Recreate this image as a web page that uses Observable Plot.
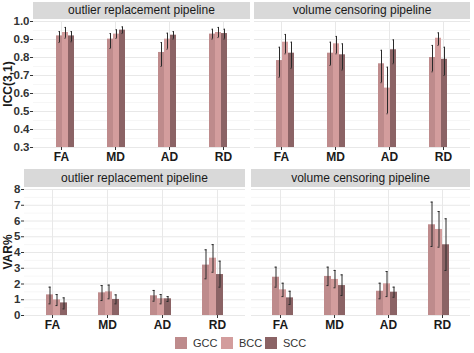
<!DOCTYPE html>
<html><head><meta charset="utf-8">
<script src="https://cdn.jsdelivr.net/npm/d3@7"></script>
<script src="https://cdn.jsdelivr.net/npm/@observablehq/plot@0.6"></script>
<style>
body{margin:0;background:#fff;font-family:"Liberation Sans",Arial,sans-serif;}
#root{position:relative;width:474px;height:353px;overflow:hidden;background:#fff;}
.layer{position:absolute;}
.layer svg{position:absolute;left:0;top:0;}
.strip{position:absolute;background:#d9d9d9;color:#1a1a1a;font-size:12px;text-align:center;white-space:nowrap;}
.ylab{position:absolute;font-weight:bold;font-size:12px;color:#1a1a1a;transform:rotate(-90deg);transform-origin:center;white-space:nowrap;text-align:center;width:80px;margin-left:-40px;height:14px;margin-top:-7px;line-height:14px;}
.sw{position:absolute;width:12px;height:12px;}
.lg{position:absolute;font-size:11px;color:#333;line-height:14px;}
</style></head>
<body><div id="root"></div>
<script>
const categories = ["FA","MD","AD","RD"];
const methods = ["GCC","BCC","SCC"];
const colors = ["#be8b8c","#d39d9d","#8b6365"];

// values ordered category-major: FA(GCC,BCC,SCC), MD(...), AD(...), RD(...)
const iccOutlierMean = [0.92,0.939,0.92, 0.902,0.93,0.952, 0.828,0.902,0.924, 0.93,0.939,0.933];
const iccOutlierLo   = [0.883,0.907,0.887, 0.85,0.906,0.933, 0.75,0.846,0.902, 0.902,0.911,0.902];
const iccOutlierHi   = [0.944,0.967,0.944, 0.933,0.954,0.97, 0.883,0.935,0.944, 0.957,0.967,0.957];

const iccCensorMean = [0.783,0.885,0.824, 0.824,0.876,0.815, 0.765,0.63,0.843, 0.80,0.907,0.79];
const iccCensorLo   = [0.69,0.82,0.74, 0.756,0.82,0.73, 0.66,0.487,0.765, 0.72,0.867,0.70];
const iccCensorHi   = [0.857,0.928,0.885, 0.885,0.917,0.876, 0.84,0.746,0.898, 0.867,0.937,0.857];

const varOutlierMean = [1.31,0.99,0.8, 1.44,1.5,1.02, 1.25,1.06,1.06, 3.2,3.64,2.6];
const varOutlierLo   = [0.74,0.63,0.42, 0.95,1.06,0.74, 0.91,0.74,0.89, 2.33,2.75,1.8];
const varOutlierHi   = [1.8,1.33,1.12, 1.9,1.93,1.31, 1.59,1.33,1.2, 4.17,4.5,3.45];

const varCensorMean = [2.43,1.63,1.12, 2.48,2.29,1.9, 1.54,2.01,1.48, 5.76,5.46,4.49];
const varCensorLo   = [1.8,1.2,0.7, 1.9,1.76,1.27, 1.06,1.2,1.16, 4.38,4.34,2.86];
const varCensorHi   = [3.07,2.05,1.54, 3.07,2.86,2.58, 2.05,2.79,1.8, 7.2,6.6,6.14];

const iccTicks = [0.3,0.4,0.5,0.6,0.7,0.8,0.9,1.0];
const iccMinor = [0.35,0.45,0.55,0.65,0.75,0.85,0.95];
const varTicks = [0,1,2,3,4,5,6,7,8];
const varMinor = [0.5,1.5,2.5,3.5,4.5,5.5,6.5,7.5];

const stripTitles = ["outlier replacement pipeline","volume censoring pipeline"];
const yLabels = ["ICC(3,1)","VAR%"];

const root = document.getElementById("root");
const FONT = '"Liberation Sans", Arial, sans-serif';

function panel(o){
  const rows = [];
  categories.forEach((c,i)=>methods.forEach((m,j)=>{
    const k=i*3+j; rows.push({category:c, method:m, mean:o.mean[k], lo:o.lo[k], hi:o.hi[k]});
  }));
  const common = {width:o.width, height:o.height, marginLeft:o.marginLeft, marginRight:0, marginTop:o.marginTop, marginBottom:o.marginBottom};
  const bg = Plot.plot({...common,
    style:{background:"white", fontFamily:FONT, fontSize:"11px", color:"#1a1a1a", overflow:"visible"},
    x:{domain:categories, paddingInner:0.6, paddingOuter:0.4, label:null},
    y:{domain:o.yDomain, label:null, axis: o.showY ? undefined : null},
    marks:[
      Plot.gridY(o.yMinor,{stroke:"#f2f2f2", strokeOpacity:1, strokeWidth:0.7}),
      Plot.gridY(o.yTicks,{stroke:"#e8e8e8", strokeOpacity:1, strokeWidth:1}),
      Plot.ruleX(categories,{x:d=>d, stroke:"#e8e8e8", strokeWidth:1}),
      Plot.axisX({tickSize:3, tickPadding:2, fontWeight:"bold", fontSize:12, stroke:"#333", fill:"#1a1a1a", label:null}),
      o.showY ? Plot.axisY({ticks:o.yTicks, tickFormat:o.yFormat, tickSize:3, tickPadding:1, fontWeight:"bold", fontSize:11.5, stroke:"#333", fill:"#333", label:null}) : null
    ]
  });
  const fg = Plot.plot({...common,
    style:{background:"transparent", overflow:"visible"},
    fx:{domain:categories, paddingInner:0.6, paddingOuter:0.4, axis:null, label:null},
    x:{domain:methods, padding:0, axis:null},
    y:{domain:o.yDomain, axis:null},
    color:{domain:methods, range:colors},
    marks:[
      Plot.barY(rows,{fx:"category", x:"method", y1:o.yDomain[0], y2:"mean", fill:"method"}),
      Plot.ruleX(rows,{fx:"category", x:"method", y1:"lo", y2:"hi", stroke:"#2a2a2a", strokeWidth:1}),
      Plot.tickY(rows,{fx:"category", x:"method", y:"lo", insetLeft:2.5, insetRight:2.5, stroke:"#2a2a2a", strokeWidth:1}),
      Plot.tickY(rows,{fx:"category", x:"method", y:"hi", insetLeft:2.5, insetRight:2.5, stroke:"#2a2a2a", strokeWidth:1})
    ]
  });
  const layer = document.createElement("div");
  layer.className = "layer";
  layer.style.left = o.left+"px"; layer.style.top = o.top+"px";
  layer.style.width = o.width+"px"; layer.style.height = o.height+"px";
  layer.appendChild(bg); layer.appendChild(fg);
  root.appendChild(layer);
  const s = document.createElement("div");
  s.className = "strip";
  s.style.left = (o.left+o.marginLeft)+"px"; s.style.top = o.stripTop+"px";
  s.style.width = (o.width-o.marginLeft)+"px"; s.style.height = o.stripH+"px";
  s.style.lineHeight = o.stripH+"px";
  s.textContent = o.title;
  root.appendChild(s);
}

const f1 = d3.format(".1f");
panel({left:0, top:0, width:250, height:168, marginLeft:33, marginTop:21, marginBottom:21,
  stripTop:2, stripH:17, title:stripTitles[0], showY:true,
  yDomain:[0.3,1.0], yTicks:iccTicks, yMinor:iccMinor, yFormat:f1,
  mean:iccOutlierMean, lo:iccOutlierLo, hi:iccOutlierHi});
panel({left:254, top:0, width:216, height:168, marginLeft:0, marginTop:21, marginBottom:21,
  stripTop:2, stripH:17, title:stripTitles[1], showY:false,
  yDomain:[0.3,1.0], yTicks:iccTicks, yMinor:iccMinor, yFormat:f1,
  mean:iccCensorMean, lo:iccCensorLo, hi:iccCensorHi});
panel({left:0, top:168, width:245, height:170, marginLeft:24, marginTop:21, marginBottom:23,
  stripTop:169, stripH:18, title:stripTitles[0], showY:true,
  yDomain:[0,8], yTicks:varTicks, yMinor:varMinor, yFormat:d3.format("d"),
  mean:varOutlierMean, lo:varOutlierLo, hi:varOutlierHi});
panel({left:251, top:168, width:219, height:170, marginLeft:0, marginTop:21, marginBottom:23,
  stripTop:169, stripH:18, title:stripTitles[1], showY:false,
  yDomain:[0,8], yTicks:varTicks, yMinor:varMinor, yFormat:d3.format("d"),
  mean:varCensorMean, lo:varCensorLo, hi:varCensorHi});

[[yLabels[0],84],[yLabels[1],252]].forEach(([t,y])=>{
  const d=document.createElement("div"); d.className="ylab";
  d.style.left="8px"; d.style.top=y+"px"; d.textContent=t; root.appendChild(d);
});

const swX=[175,221,265];
methods.forEach((m,i)=>{
  const s=document.createElement("div"); s.className="sw";
  s.style.left=swX[i]+"px"; s.style.top="337px"; s.style.background=colors[i]; root.appendChild(s);
  const t=document.createElement("div"); t.className="lg";
  t.style.left=(swX[i]+18)+"px"; t.style.top="336px"; t.textContent=m; root.appendChild(t);
});
</script></body></html>
